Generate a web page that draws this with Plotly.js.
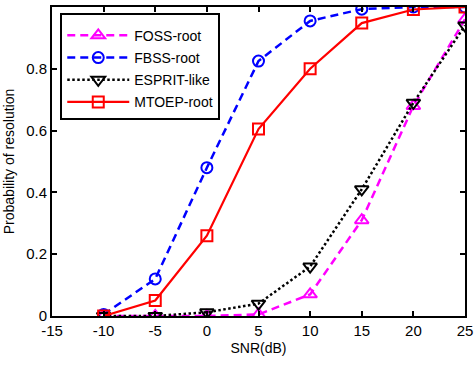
<!DOCTYPE html>
<html><head><meta charset="utf-8">
<script src="https://cdn.plot.ly/plotly-3.0.1.min.js"></script>
<style>html,body{margin:0;padding:0;background:#fff}#c{width:474px;height:376px}</style>
</head><body><div id="c"></div>
<script>
const snr = [-10, -5, 0, 5, 10, 15, 20, 25];
const fossRoot = [0.0, 0.0, 0.0, 0.005, 0.07, 0.31, 0.68, 0.96];
const fbssRoot = [0.005, 0.12, 0.48, 0.825, 0.955, 0.993, 1.0, 1.0];
const espritLike = [0.0, 0.0, 0.012, 0.04, 0.16, 0.41, 0.69, 0.94];
const mtoepRoot = [0.0, 0.05, 0.26, 0.605, 0.80, 0.948, 0.992, 1.0];
const xTicks = [-15, -10, -5, 0, 5, 10, 15, 20, 25];
const yTicks = [0, 0.2, 0.4, 0.6, 0.8, 1];

const fam = 'Liberation Sans, Arial, sans-serif';
const font = {family: fam, size: 14, color: '#000'};
const traces = [
  {x: snr, y: fossRoot, name: 'FOSS-root', mode: 'lines+markers', legendgroup: 'a',
   line: {color: '#FF00FF', width: 2.5, dash: '8px,5px'},
   marker: {symbol: 'triangle-up-open', size: 12, color: '#FF00FF', line: {width: 2}}},
  {x: snr, y: fbssRoot, name: 'FBSS-root', mode: 'lines+markers', legendgroup: 'b',
   line: {color: '#0000FF', width: 2.5, dash: '8px,5px'},
   marker: {symbol: 'circle-open', size: 11, color: '#0000FF', line: {width: 2}}},
  {x: snr, y: espritLike, name: 'ESPRIT-like', mode: 'lines+markers', legendgroup: 'c',
   line: {color: '#000000', width: 2.5, dash: '2.5px,2.5px'},
   marker: {symbol: 'triangle-down-open', size: 12, color: '#000000', line: {width: 2}}},
  {x: snr, y: mtoepRoot, name: 'MTOEP-root', mode: 'lines+markers', legendgroup: 'd',
   line: {color: '#FF0000', width: 2.2},
   marker: {symbol: 'square-open', size: 11, color: '#FF0000', line: {width: 2}}}
];
const layout = {
  width: 474, height: 376,
  margin: {l: 52, r: 9, t: 7, b: 60},
  paper_bgcolor: '#fff', plot_bgcolor: '#fff',
  font: font,
  showlegend: true,
  legend: {x: 0.02, y: 0.982, xanchor: 'left', yanchor: 'top',
    bgcolor: '#fff', bordercolor: '#000', borderwidth: 2,
    font: {family: fam, size: 14, color: '#000'},
    title: {text: '&nbsp;', font: {family: fam, size: 4}},
    itemwidth: 62, tracegroupgap: 1},
  xaxis: {range: [-15, 25], tickvals: xTicks, ticktext: xTicks.map(String),
    ticks: 'inside', ticklen: 5, tickwidth: 2, tickcolor: '#000',
    tickfont: {family: fam, size: 15, color: '#000'},
    showline: true, linewidth: 2, linecolor: '#000', mirror: 'ticks',
    showgrid: false, zeroline: false,
    title: {text: 'SNR(dB)', font: font, standoff: 5}},
  yaxis: {range: [0, 1], tickvals: yTicks, ticktext: yTicks.map(String),
    ticks: 'inside', ticklen: 5, tickwidth: 2, tickcolor: '#000',
    tickfont: {family: fam, size: 15, color: '#000'},
    showline: true, linewidth: 2, linecolor: '#000', mirror: 'ticks',
    showgrid: false, zeroline: false,
    title: {text: 'Probability of resolution', font: font, standoff: 8}}
};
Plotly.newPlot('c', traces, layout, {staticPlot: true, displayModeBar: false});
</script></body></html>
